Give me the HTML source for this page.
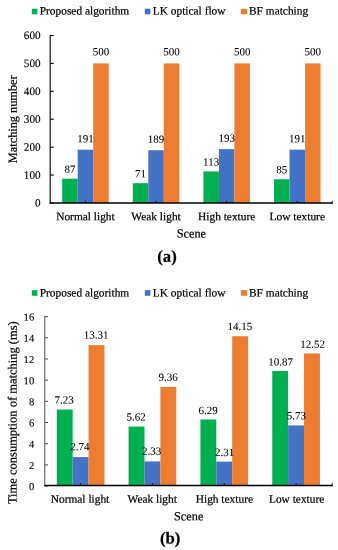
<!DOCTYPE html>
<html><head><meta charset="utf-8"><title>chart</title>
<style>
html,body{margin:0;padding:0;background:#fff;}
body{width:338px;height:550px;overflow:hidden;}
svg{display:block;font-family:"Liberation Serif",serif;fill:#000;text-rendering:geometricPrecision;}
text{stroke:#000;stroke-width:0.22px;}
text.t{stroke-width:0.12px;}
text.d{stroke-width:0.06px;}
</style></head><body>
<svg width="338" height="550" viewBox="0 0 338 550">
<rect x="0" y="0" width="338" height="550" fill="#ffffff"/>
<rect x="31.80" y="8.75" width="5.60" height="5.60" fill="#00b050"/>
<text transform="translate(39.70,14.50) rotate(0.03)" font-size="11.4" text-anchor="start">Proposed algorithm</text>
<rect x="144.80" y="8.75" width="5.60" height="5.60" fill="#4472c4"/>
<text transform="translate(152.75,14.50) rotate(0.03)" font-size="11.4" text-anchor="start">LK optical flow</text>
<rect x="240.90" y="8.75" width="6.20" height="5.60" fill="#ed7d31"/>
<text transform="translate(249.00,14.50) rotate(0.03)" font-size="11.4" text-anchor="start">BF matching</text>
<rect x="62.19" y="178.71" width="15.50" height="24.29" fill="#00b050"/>
<rect x="77.69" y="149.68" width="15.50" height="53.32" fill="#4472c4"/>
<rect x="93.19" y="63.42" width="15.50" height="139.58" fill="#ed7d31"/>
<text transform="translate(69.94,172.81) rotate(0.03)" font-size="11.0" text-anchor="middle" class="d">87</text>
<text transform="translate(85.44,142.28) rotate(0.03)" font-size="11.0" text-anchor="middle" class="d">191</text>
<text transform="translate(100.94,55.22) rotate(0.03)" font-size="11.0" text-anchor="middle" class="d">500</text>
<text transform="translate(85.44,220.30) rotate(0.03)" font-size="11.4" text-anchor="middle">Normal light</text>
<rect x="132.81" y="183.18" width="15.50" height="19.82" fill="#00b050"/>
<rect x="148.31" y="150.24" width="15.50" height="52.76" fill="#4472c4"/>
<rect x="163.81" y="63.42" width="15.50" height="139.58" fill="#ed7d31"/>
<text transform="translate(140.56,177.28) rotate(0.03)" font-size="11.0" text-anchor="middle" class="d">71</text>
<text transform="translate(156.06,142.84) rotate(0.03)" font-size="11.0" text-anchor="middle" class="d">189</text>
<text transform="translate(171.56,55.22) rotate(0.03)" font-size="11.0" text-anchor="middle" class="d">500</text>
<text transform="translate(156.06,220.30) rotate(0.03)" font-size="11.4" text-anchor="middle">Weak light</text>
<rect x="203.42" y="171.45" width="15.50" height="31.55" fill="#00b050"/>
<rect x="218.92" y="149.12" width="15.50" height="53.88" fill="#4472c4"/>
<rect x="234.42" y="63.42" width="15.50" height="139.58" fill="#ed7d31"/>
<text transform="translate(211.17,165.55) rotate(0.03)" font-size="11.0" text-anchor="middle" class="d">113</text>
<text transform="translate(226.67,141.72) rotate(0.03)" font-size="11.0" text-anchor="middle" class="d">193</text>
<text transform="translate(242.17,55.22) rotate(0.03)" font-size="11.0" text-anchor="middle" class="d">500</text>
<text transform="translate(226.67,220.30) rotate(0.03)" font-size="11.4" text-anchor="middle">High texture</text>
<rect x="274.04" y="179.27" width="15.50" height="23.73" fill="#00b050"/>
<rect x="289.54" y="149.68" width="15.50" height="53.32" fill="#4472c4"/>
<rect x="305.04" y="63.42" width="15.50" height="139.58" fill="#ed7d31"/>
<text transform="translate(281.79,173.37) rotate(0.03)" font-size="11.0" text-anchor="middle" class="d">85</text>
<text transform="translate(297.29,142.28) rotate(0.03)" font-size="11.0" text-anchor="middle" class="d">191</text>
<text transform="translate(312.79,55.22) rotate(0.03)" font-size="11.0" text-anchor="middle" class="d">500</text>
<text transform="translate(297.29,220.30) rotate(0.03)" font-size="11.4" text-anchor="middle">Low texture</text>
<line x1="50.20" y1="34.90" x2="50.20" y2="203.60" stroke="#111" stroke-width="1.2"/>
<line x1="49.60" y1="203.00" x2="332.60" y2="203.00" stroke="#000" stroke-width="1.4"/>
<line x1="50.20" y1="203.00" x2="53.70" y2="203.00" stroke="#111" stroke-width="1.2"/>
<text transform="translate(40.60,206.60) rotate(0.03)" font-size="11.2" text-anchor="end" class="t">0</text>
<line x1="50.20" y1="175.08" x2="53.70" y2="175.08" stroke="#111" stroke-width="1.2"/>
<text transform="translate(40.60,178.68) rotate(0.03)" font-size="11.2" text-anchor="end" class="t">100</text>
<line x1="50.20" y1="147.17" x2="53.70" y2="147.17" stroke="#111" stroke-width="1.2"/>
<text transform="translate(40.60,150.77) rotate(0.03)" font-size="11.2" text-anchor="end" class="t">200</text>
<line x1="50.20" y1="119.25" x2="53.70" y2="119.25" stroke="#111" stroke-width="1.2"/>
<text transform="translate(40.60,122.85) rotate(0.03)" font-size="11.2" text-anchor="end" class="t">300</text>
<line x1="50.20" y1="91.33" x2="53.70" y2="91.33" stroke="#111" stroke-width="1.2"/>
<text transform="translate(40.60,94.93) rotate(0.03)" font-size="11.2" text-anchor="end" class="t">400</text>
<line x1="50.20" y1="63.42" x2="53.70" y2="63.42" stroke="#111" stroke-width="1.2"/>
<text transform="translate(40.60,67.02) rotate(0.03)" font-size="11.2" text-anchor="end" class="t">500</text>
<line x1="50.20" y1="35.50" x2="53.70" y2="35.50" stroke="#111" stroke-width="1.2"/>
<text transform="translate(40.60,39.10) rotate(0.03)" font-size="11.2" text-anchor="end" class="t">600</text>
<line x1="85.44" y1="203.00" x2="85.44" y2="200.80" stroke="#000" stroke-width="0.9"/>
<line x1="156.06" y1="203.00" x2="156.06" y2="200.80" stroke="#000" stroke-width="0.9"/>
<line x1="226.67" y1="203.00" x2="226.67" y2="200.80" stroke="#000" stroke-width="0.9"/>
<line x1="297.29" y1="203.00" x2="297.29" y2="200.80" stroke="#000" stroke-width="0.9"/>
<line x1="332.15" y1="203.70" x2="332.15" y2="200.80" stroke="#000" stroke-width="0.9"/>
<text transform="translate(191.40,237.50) rotate(0.03)" font-size="12.3" text-anchor="middle">Scene</text>
<text transform="translate(16.80,119.25) rotate(-89.97)" font-size="12.3" text-anchor="middle">Matching number</text>
<text transform="translate(167.00,261.80) rotate(0.03)" font-size="16.7" text-anchor="middle" font-weight="bold">(a)</text>
<rect x="31.80" y="290.15" width="5.60" height="5.60" fill="#00b050"/>
<text transform="translate(39.70,296.40) rotate(0.03)" font-size="11.4" text-anchor="start">Proposed algorithm</text>
<rect x="144.80" y="290.15" width="5.60" height="5.60" fill="#4472c4"/>
<text transform="translate(152.75,296.40) rotate(0.03)" font-size="11.4" text-anchor="start">LK optical flow</text>
<rect x="240.90" y="290.15" width="6.20" height="5.60" fill="#ed7d31"/>
<text transform="translate(249.00,296.40) rotate(0.03)" font-size="11.4" text-anchor="start">BF matching</text>
<rect x="56.76" y="409.51" width="15.90" height="76.59" fill="#00b050"/>
<rect x="72.66" y="457.07" width="15.90" height="29.03" fill="#4472c4"/>
<rect x="88.56" y="345.10" width="15.90" height="141.00" fill="#ed7d31"/>
<text transform="translate(64.21,403.51) rotate(0.03)" font-size="11.0" text-anchor="middle" class="d">7.23</text>
<text transform="translate(79.81,450.32) rotate(0.03)" font-size="11.0" text-anchor="middle" class="d">2.74</text>
<text transform="translate(96.01,338.60) rotate(0.03)" font-size="11.0" text-anchor="middle" class="d">13.31</text>
<text transform="translate(80.01,502.80) rotate(0.03)" font-size="11.4" text-anchor="middle">Normal light</text>
<rect x="128.59" y="426.56" width="15.90" height="59.54" fill="#00b050"/>
<rect x="144.49" y="461.42" width="15.90" height="24.68" fill="#4472c4"/>
<rect x="160.39" y="386.94" width="15.90" height="99.16" fill="#ed7d31"/>
<text transform="translate(136.04,420.56) rotate(0.03)" font-size="11.0" text-anchor="middle" class="d">5.62</text>
<text transform="translate(151.64,454.67) rotate(0.03)" font-size="11.0" text-anchor="middle" class="d">2.33</text>
<text transform="translate(168.14,380.84) rotate(0.03)" font-size="11.0" text-anchor="middle" class="d">9.36</text>
<text transform="translate(152.24,502.80) rotate(0.03)" font-size="11.4" text-anchor="middle">Weak light</text>
<rect x="200.41" y="419.47" width="15.90" height="66.63" fill="#00b050"/>
<rect x="216.31" y="461.63" width="15.90" height="24.47" fill="#4472c4"/>
<rect x="232.21" y="336.20" width="15.90" height="149.90" fill="#ed7d31"/>
<text transform="translate(208.16,414.07) rotate(0.03)" font-size="11.0" text-anchor="middle" class="d">6.29</text>
<text transform="translate(224.66,455.88) rotate(0.03)" font-size="11.0" text-anchor="middle" class="d">2.31</text>
<text transform="translate(239.96,330.10) rotate(0.03)" font-size="11.0" text-anchor="middle" class="d">14.15</text>
<text transform="translate(224.36,502.80) rotate(0.03)" font-size="11.4" text-anchor="middle">High texture</text>
<rect x="272.24" y="370.95" width="15.90" height="115.15" fill="#00b050"/>
<rect x="288.14" y="425.40" width="15.90" height="60.70" fill="#4472c4"/>
<rect x="304.04" y="353.47" width="15.90" height="132.63" fill="#ed7d31"/>
<text transform="translate(280.69,365.45) rotate(0.03)" font-size="11.0" text-anchor="middle" class="d">10.87</text>
<text transform="translate(296.49,419.25) rotate(0.03)" font-size="11.0" text-anchor="middle" class="d">5.73</text>
<text transform="translate(312.69,347.67) rotate(0.03)" font-size="11.0" text-anchor="middle" class="d">12.52</text>
<text transform="translate(296.64,502.80) rotate(0.03)" font-size="11.4" text-anchor="middle">Low texture</text>
<line x1="44.80" y1="316.20" x2="44.80" y2="486.50" stroke="#222" stroke-width="0.8"/>
<line x1="44.40" y1="485.60" x2="332.60" y2="485.60" stroke="#000" stroke-width="1.5"/>
<line x1="44.80" y1="486.10" x2="48.00" y2="486.10" stroke="#222" stroke-width="0.8"/>
<text transform="translate(34.20,490.10) rotate(0.03)" font-size="10.6" text-anchor="end" class="t">0</text>
<line x1="44.80" y1="464.91" x2="48.00" y2="464.91" stroke="#222" stroke-width="0.8"/>
<text transform="translate(34.20,468.91) rotate(0.03)" font-size="10.6" text-anchor="end" class="t">2</text>
<line x1="44.80" y1="443.73" x2="48.00" y2="443.73" stroke="#222" stroke-width="0.8"/>
<text transform="translate(34.20,447.73) rotate(0.03)" font-size="10.6" text-anchor="end" class="t">4</text>
<line x1="44.80" y1="422.54" x2="48.00" y2="422.54" stroke="#222" stroke-width="0.8"/>
<text transform="translate(34.20,426.54) rotate(0.03)" font-size="10.6" text-anchor="end" class="t">6</text>
<line x1="44.80" y1="401.35" x2="48.00" y2="401.35" stroke="#222" stroke-width="0.8"/>
<text transform="translate(34.20,405.35) rotate(0.03)" font-size="10.6" text-anchor="end" class="t">8</text>
<line x1="44.80" y1="380.16" x2="48.00" y2="380.16" stroke="#222" stroke-width="0.8"/>
<text transform="translate(34.20,384.16) rotate(0.03)" font-size="10.6" text-anchor="end" class="t">10</text>
<line x1="44.80" y1="358.98" x2="48.00" y2="358.98" stroke="#222" stroke-width="0.8"/>
<text transform="translate(34.20,362.98) rotate(0.03)" font-size="10.6" text-anchor="end" class="t">12</text>
<line x1="44.80" y1="337.79" x2="48.00" y2="337.79" stroke="#222" stroke-width="0.8"/>
<text transform="translate(34.20,341.79) rotate(0.03)" font-size="10.6" text-anchor="end" class="t">14</text>
<line x1="44.80" y1="316.60" x2="48.00" y2="316.60" stroke="#222" stroke-width="0.8"/>
<text transform="translate(34.20,320.60) rotate(0.03)" font-size="10.6" text-anchor="end" class="t">16</text>
<line x1="80.61" y1="485.60" x2="80.61" y2="483.20" stroke="#000" stroke-width="0.9"/>
<line x1="152.44" y1="485.60" x2="152.44" y2="483.20" stroke="#000" stroke-width="0.9"/>
<line x1="224.26" y1="485.60" x2="224.26" y2="483.20" stroke="#000" stroke-width="0.9"/>
<line x1="296.09" y1="485.60" x2="296.09" y2="483.20" stroke="#000" stroke-width="0.9"/>
<line x1="332.15" y1="486.35" x2="332.15" y2="483.20" stroke="#000" stroke-width="0.9"/>
<text transform="translate(188.70,520.20) rotate(0.03)" font-size="12.3" text-anchor="middle">Scene</text>
<text transform="translate(16.60,412.65) rotate(-89.97)" font-size="12.5" text-anchor="middle">Time consumption of matching (ms)</text>
<text transform="translate(170.20,543.40) rotate(0.03)" font-size="16.7" text-anchor="middle" font-weight="bold">(b)</text>
</svg>
</body></html>
